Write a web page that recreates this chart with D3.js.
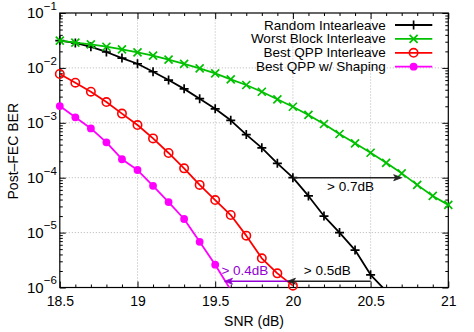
<!DOCTYPE html>
<html>
<head>
<meta charset="utf-8">
<script src="https://cdn.jsdelivr.net/npm/d3@7"></script>
<style>
  html, body { margin: 0; padding: 0; background: #fff; }
  svg { display: block; font-family: "Liberation Sans", Arial, Helvetica, sans-serif; }
</style>
</head>
<body>
<svg id="chart" width="474" height="332"></svg>
<script>
// SNR points (dB) at which each interleaver was simulated
const snr = [18.5, 18.6, 18.7, 18.8, 18.9, 19.0, 19.1, 19.2, 19.3, 19.4, 19.5, 19.6, 19.7,
             19.8, 19.9, 20.0, 20.1, 20.2, 20.3, 20.4, 20.5, 20.6, 20.7, 20.8, 20.9, 21.0];

// Post-FEC bit error rate per series (one value per SNR point, from 18.5 dB)
const randomInterleave = [3.15e-2, 2.85e-2, 2.42e-2, 1.95e-2, 1.51e-2, 1.19e-2, 8.5e-3, 6.0e-3,
  4.15e-3, 2.75e-3, 1.8e-3, 1.11e-3, 6.1e-4, 3.5e-4, 1.83e-4, 1.0e-4, 4.65e-5, 2.0e-5, 1.0e-5,
  4.8e-6, 1.7e-6, 8.6e-7];
const worstBlock = [3.13e-2, 2.88e-2, 2.69e-2, 2.43e-2, 2.18e-2, 1.92e-2, 1.68e-2, 1.42e-2,
  1.18e-2, 9.8e-3, 7.97e-3, 6.2e-3, 4.88e-3, 3.68e-3, 2.68e-3, 1.96e-3, 1.39e-3, 9.5e-4, 6.25e-4,
  4.23e-4, 2.85e-4, 1.87e-4, 1.2e-4, 7.4e-5, 4.65e-5, 3.2e-5];
const bestQPP = [7.74e-3, 5.37e-3, 3.69e-3, 2.39e-3, 1.47e-3, 9.1e-4, 5.2e-4, 2.82e-4, 1.48e-4,
  7.4e-5, 3.92e-5, 2.09e-5, 8.8e-6, 3.4e-6, 1.81e-6, 1.08e-6];
const bestQPPShaping = [2.02e-3, 1.26e-3, 7.9e-4, 4.4e-4, 2.17e-4, 1.38e-4, 7.1e-5, 3.6e-5,
  1.77e-5, 6.8e-6, 2.6e-6, 9.0e-7];

const seriesNames = ["Random Intearleave", "Worst Block Interleave", "Best QPP Interleave", "Best QPP w/ Shaping"];

// Axis tick labels
const xTickValues = [18.5, 19, 19.5, 20, 20.5, 21];
const xTickLabels = ["18.5", "19", "19.5", "20", "20.5", "21"];
const yTickValues = [1e-1, 1e-2, 1e-3, 1e-4, 1e-5, 1e-6];
const yTickExponents = ["\u22121", "\u22122", "\u22123", "\u22124", "\u22125", "\u22126"];

// SNR-gap annotations: arrow from snr "from" to snr "to" at a BER level
const gapFrom = [20.0, 20.0, 20.5];
const gapTo = [20.7, 19.56, 19.965];
const gapBer = [1e-4, 1.3e-6, 1.3e-6];
const gapText = ["> 0.7dB", "> 0.4dB", "> 0.5dB"];
const gapTextSnr = [20.22, 19.54, 20.07];
const gapTextBer = [6.9e-5, 2.0e-6, 2.0e-6];

const svg = d3.select("#chart");
const W = 474, H = 332;
const margin = { left: 59.8, right: 25.7, top: 13, bottom: 44.5 };
const x = d3.scaleLinear().domain([18.5, 21]).range([margin.left, W - margin.right]);
const y = d3.scaleLog().domain([1e-6, 1e-1]).range([H - margin.bottom, margin.top]);
const x0 = x.range()[0], x1 = x.range()[1], y0 = y.range()[0], y1 = y.range()[1];

svg.append("rect").attr("width", W).attr("height", H).attr("fill", "#fff");

svg.append("defs").append("clipPath").attr("id", "plotClip")
  .append("rect").attr("x", x0).attr("y", y1).attr("width", x1 - x0).attr("height", y0 - y1);

// grid
const grid = svg.append("g").attr("stroke", "#b4b4b4").attr("stroke-width", 1)
  .attr("stroke-dasharray", "1,2");
grid.selectAll("line.gx").data(xTickValues.slice(1, -1)).join("line")
  .attr("x1", d => x(d)).attr("x2", d => x(d)).attr("y1", y0).attr("y2", y1);
grid.selectAll("line.gy").data(yTickValues.slice(1, -1)).join("line")
  .attr("y1", d => y(d)).attr("y2", d => y(d)).attr("x1", x0).attr("x2", x1);

// ticks (inward, mirrored on all four sides)
const fontSize = 13.5;
const minorX = d3.range(18.5, 21.0001, 0.1).filter(v => Math.abs(v * 2 - Math.round(v * 2)) > 1e-6);
const minorY = [];
for (let e = -6; e < -1; e++) for (let m = 2; m <= 9; m++) minorY.push(m * Math.pow(10, e));

function styleAxis(g) {
  g.select(".domain").remove();
  g.selectAll(".tick line").attr("stroke", "#000").attr("stroke-width", 1);
}

const xAxis = svg.append("g").attr("transform", `translate(0,${y0})`)
  .call(d3.axisBottom(x).tickValues(xTickValues).tickSize(-6).tickPadding(8.5)
    .tickFormat((d, i) => xTickLabels[i]));
styleAxis(xAxis);
xAxis.selectAll("text").attr("font-size", 14).attr("fill", "#000")
  .attr("font-family", "Liberation Sans, Arial, sans-serif");
svg.append("g").attr("transform", `translate(0,${y0})`)
  .call(d3.axisBottom(x).tickValues(minorX).tickSize(-3).tickFormat("")).call(styleAxis);
svg.append("g").attr("transform", `translate(0,${y1})`)
  .call(d3.axisTop(x).tickValues(xTickValues).tickSize(-6).tickFormat("")).call(styleAxis);
svg.append("g").attr("transform", `translate(0,${y1})`)
  .call(d3.axisTop(x).tickValues(minorX).tickSize(-3).tickFormat("")).call(styleAxis);

const yAxis = svg.append("g").attr("transform", `translate(${x0},0)`)
  .call(d3.axisLeft(y).tickValues(yTickValues).tickSize(-6).tickPadding(3).tickFormat(""));
styleAxis(yAxis);
yAxis.selectAll(".tick text").each(function (d, i) {
  const t = d3.select(this).attr("font-size", 15).attr("fill", "#000")
    .attr("font-family", "Liberation Sans, Arial, sans-serif");
  t.append("tspan").text("10");
  t.append("tspan").attr("font-size", 11.5).attr("dy", -8.5).text(yTickExponents[i]);
});
svg.append("g").attr("transform", `translate(${x0},0)`)
  .call(d3.axisLeft(y).tickValues(minorY).tickSize(-3).tickFormat("")).call(styleAxis);
svg.append("g").attr("transform", `translate(${x1},0)`)
  .call(d3.axisRight(y).tickValues(yTickValues).tickSize(-6).tickFormat("")).call(styleAxis);
svg.append("g").attr("transform", `translate(${x1},0)`)
  .call(d3.axisRight(y).tickValues(minorY).tickSize(-3).tickFormat("")).call(styleAxis);

// border
svg.append("rect").attr("x", x0).attr("y", y1).attr("width", x1 - x0).attr("height", y0 - y1)
  .attr("fill", "none").attr("stroke", "#000").attr("stroke-width", 1.2);

// axis titles
svg.append("text").attr("x", (x0 + x1) / 2).attr("y", 326).attr("text-anchor", "middle")
  .attr("font-size", 14).text("SNR (dB)");
svg.append("text").attr("transform", `translate(17.5,${(y0 + y1) / 2 + 1}) rotate(-90)`)
  .attr("text-anchor", "middle").attr("font-size", 14).text("Post\u2013FEC BER");

// markers
const markerPath = {
  plus: "M-4.5,0H4.5M0,-4.5V4.5",
  cross: "M-4,-4L4,4M-4,4L4,-4"
};
function drawMarker(g, kind, color) {
  if (kind === "plus" || kind === "cross") {
    g.append("path").attr("d", markerPath[kind]).attr("stroke", color).attr("stroke-width", 1.7)
      .attr("fill", "none");
  } else if (kind === "ring") {
    g.append("circle").attr("r", 4.2).attr("fill", "none").attr("stroke", color).attr("stroke-width", 1.6);
  } else {
    g.append("circle").attr("r", 3.9).attr("fill", color);
  }
}

const series = [
  { name: seriesNames[0], values: randomInterleave, color: "#000000", marker: "plus" },
  { name: seriesNames[1], values: worstBlock, color: "#00c000", marker: "cross" },
  { name: seriesNames[2], values: bestQPP, color: "#ff0000", marker: "ring" },
  { name: seriesNames[3], values: bestQPPShaping, color: "#ff00ff", marker: "dot" }
];

const line = d3.line().x(d => x(d[0])).y(d => y(d[1]));
const [lo, hi] = y.domain();

series.forEach(s => {
  const pts = s.values.map((v, i) => [snr[i], v]);
  svg.append("path").attr("clip-path", "url(#plotClip)").attr("d", line(pts))
    .attr("fill", "none").attr("stroke", s.color).attr("stroke-width", 1.8)
    .attr("stroke-linejoin", "round");
  pts.filter(p => p[1] >= lo && p[1] <= hi).forEach(p => {
    const g = svg.append("g").attr("transform", `translate(${x(p[0])},${y(p[1])})`);
    drawMarker(g, s.marker, s.color);
  });
});

// SNR gap arrows and labels
const gapColor = ["#222", "#9400d3", "#222"];
function arrow(xa, xb, yy, color) {
  const g = svg.append("g");
  const dir = Math.sign(xb - xa);
  g.append("line").attr("x1", xa).attr("x2", xb - dir * 5).attr("y1", yy).attr("y2", yy)
    .attr("stroke", color).attr("stroke-width", 1.5);
  g.append("path")
    .attr("d", `M${xb},${yy}L${xb - dir * 8},${yy - 3}L${xb - dir * 6},${yy}L${xb - dir * 8},${yy + 3}Z`)
    .attr("fill", color).attr("stroke", color).attr("stroke-width", 0.8);
}
gapFrom.forEach((f, i) => {
  arrow(x(f), x(gapTo[i]), y(gapBer[i]), gapColor[i]);
  svg.append("text").attr("x", x(gapTextSnr[i])).attr("y", y(gapTextBer[i]))
    .attr("dominant-baseline", "central").attr("font-size", fontSize)
    .attr("fill", gapColor[i] === "#222" ? "#000" : gapColor[i]).text(gapText[i]);
});

// legend
const legendRows = [25, 38.9, 52.8, 66.7];
const legend = svg.append("g");
series.forEach((s, i) => {
  const ly = legendRows[i];
  legend.append("text").attr("x", 385.7).attr("y", ly).attr("text-anchor", "end")
    .attr("dominant-baseline", "central").attr("font-size", fontSize).text(s.name);
  legend.append("line").attr("x1", 395).attr("x2", 432.3).attr("y1", ly).attr("y2", ly)
    .attr("stroke", s.color).attr("stroke-width", 1.8);
  drawMarker(legend.append("g").attr("transform", `translate(413.6,${ly})`), s.marker, s.color);
});
</script>
</body>
</html>
